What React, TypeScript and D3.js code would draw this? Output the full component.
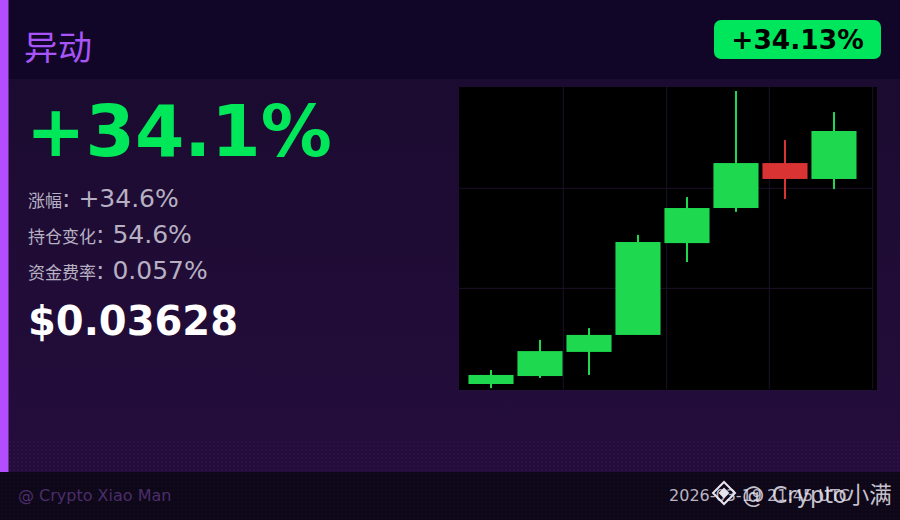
import { useEffect } from "react";
import * as d3 from "d3";

// candles (price in USD)
const candleIds = ["c1", "c2", "c3", "c4", "c5", "c6", "c7", "c8"];
const opens = [0.02705, 0.02734, 0.02822, 0.02884, 0.03219, 0.03347, 0.03511, 0.03453];
const highs = [0.02756, 0.02866, 0.02909, 0.03249, 0.03387, 0.03774, 0.03595, 0.03697];
const lows = [0.0269, 0.02727, 0.02738, 0.02884, 0.0315, 0.03333, 0.0338, 0.03416];
const closes = [0.02738, 0.02825, 0.02884, 0.03223, 0.03347, 0.03511, 0.03453, 0.03628];

// grid positions (x in candle index units, y in price)
const xGrid = [1.475, 3.585, 5.68, 7.79];
const yGrid = [0.03054, 0.03419];

const title = "异动";
const badge = "+34.13%";
const headline = "+34.1%";
const statLabels = ["涨幅", "持仓变化", "资金费率"];
const statValues = ["+34.6%", "54.6%", "0.057%"];
const price = "$0.03628";
const footerLeft = "@ Crypto Xiao Man";
const footerRight = "2026-03-19 21:45 UTC";
const watermark = "@ Crypto小满";

const W = 900;
const H = 520;
const FONT = "'DejaVu Sans', 'Noto Sans CJK SC', sans-serif";
const CJK = "'Noto Sans CJK SC', 'DejaVu Sans', sans-serif";

export default function App() {
  useEffect(() => {
    document.body.style.margin = "0";
  }, []);

  const plot = { left: 459, right: 877, top: 87, bottom: 390 };

  const x = d3.scaleLinear().domain([-0.653, 7.878]).range([plot.left, plot.right]);
  const y = d3
    .scaleLinear()
    .domain([0.026831, 0.037885])
    .range([plot.bottom, plot.top]);
  const step = x(1) - x(0);
  const bw = step * 0.92;

  const candles = candleIds.map((id, i) => ({
    id,
    i,
    o: opens[i],
    h: highs[i],
    l: lows[i],
    c: closes[i],
  }));

  return (
    <svg
      width={W}
      height={H}
      viewBox={`0 0 ${W} ${H}`}
      style={{ display: "block", position: "absolute", left: 0, top: 0 }}
    >
      <defs>
        <linearGradient id="panel" x1="0" y1="0" x2="0" y2="1">
          <stop offset="0%" stopColor="#1a0b2e" />
          <stop offset="100%" stopColor="#250d3d" />
        </linearGradient>
        <pattern id="dots" width="4" height="4" patternUnits="userSpaceOnUse">
          <circle cx="2" cy="2" r="0.6" fill="#3e1f5c" />
        </pattern>
        <pattern id="dotsDark" width="4" height="4" patternUnits="userSpaceOnUse">
          <circle cx="2" cy="2" r="0.6" fill="#1c1128" />
        </pattern>
      </defs>

      {/* backgrounds */}
      <rect x={0} y={0} width={W} height={H} fill="url(#panel)" />
      <rect x={0} y={0} width={W} height={79} fill="#110628" />
      <rect x={9} y={441} width={W - 9} height={31} fill="url(#dots)" />
      <rect x={0} y={472} width={W} height={48} fill="#0d0718" />
      <rect x={0} y={472} width={W} height={48} fill="url(#dotsDark)" />
      <rect x={0} y={0} width={8.5} height={472} fill="#b44cff" />

      {/* header */}
      <text x={24} y={60} fontFamily={CJK} fontSize={34} fill="#a855f7">
        {title}
      </text>
      <rect x={714} y={20} width={167} height={39} rx={7} fill="#00e65c" />
      <text
        x={797.5}
        y={49}
        textAnchor="middle"
        fontFamily={FONT}
        fontWeight="bold"
        fontSize={26.5}
        fill="#000"
      >
        {badge}
      </text>

      {/* left stats */}
      <text x={26} y={156} fontFamily={FONT} fontWeight="bold" fontSize={71} fill="#00e85a">
        {headline}
      </text>
      {statLabels.map((lab, i) => (
        <text key={lab} x={28} y={207 + i * 36} fontFamily={FONT} fontSize={25} fill="#b7b0c2">
          <tspan fontFamily={CJK} fontSize={17}>
            {lab}
          </tspan>
          <tspan>: {statValues[i]}</tspan>
        </text>
      ))}
      <text x={28} y={335} fontFamily={FONT} fontWeight="bold" fontSize={40} fill="#ffffff">
        {price}
      </text>

      {/* candlestick panel */}
      <rect
        x={plot.left}
        y={plot.top}
        width={plot.right - plot.left}
        height={plot.bottom - plot.top}
        fill="#000"
      />
      <g stroke="#1c1128" strokeWidth={1}>
        {xGrid.map((v) => (
          <line key={`gx${v}`} x1={x(v)} x2={x(v)} y1={plot.top} y2={plot.bottom - 1} />
        ))}
        {yGrid.map((v) => (
          <line key={`gy${v}`} x1={plot.left} x2={plot.right - 4} y1={y(v)} y2={y(v)} />
        ))}
      </g>
      {candles.map((d) => {
        const col = d.c >= d.o ? "#1ed94f" : "#d93333";
        const top = y(Math.max(d.o, d.c));
        const bot = y(Math.min(d.o, d.c));
        return (
          <g key={d.id}>
            <line x1={x(d.i)} x2={x(d.i)} y1={y(d.h)} y2={y(d.l)} stroke={col} strokeWidth={2} />
            <rect x={x(d.i) - bw / 2} y={top} width={bw} height={Math.max(1, bot - top)} fill={col} />
          </g>
        );
      })}

      {/* footer */}
      <text x={18} y={501} fontFamily={FONT} fontSize={16} fill="#4b2d6b">
        {footerLeft}
      </text>
      <text x={850} y={501} textAnchor="end" fontFamily={FONT} fontSize={16} fill="#b9b3c2">
        {footerRight}
      </text>

      {/* watermark */}
      <g transform="translate(724,493)" fill="none" stroke="#e8e4ee" strokeWidth={2}>
        <path d="M0,-11 L11,0 L0,11 L-11,0 Z" />
        <path d="M0,-4 L4,0 L0,4 L-4,0 Z" fill="#e8e4ee" />
      </g>
      <text x={742} y={503} fontFamily={FONT} fontSize={22.5} fill="#e8e4ee" fillOpacity={0.85}>
        {watermark}
      </text>
    </svg>
  );
}
